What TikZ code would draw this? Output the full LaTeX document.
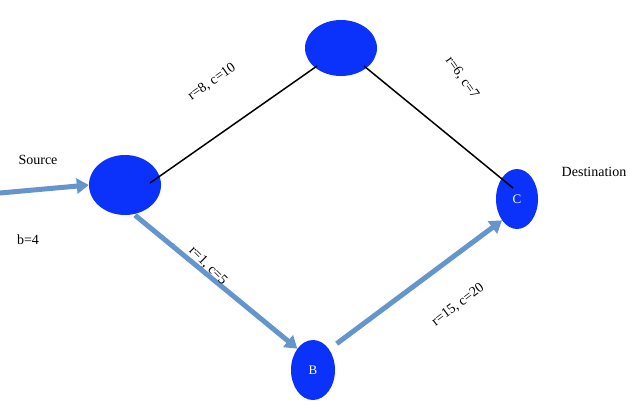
\documentclass[tikz,border=0pt]{standalone}
\usepackage{fontspec}
\setmainfont{Liberation Serif}
\usetikzlibrary{shapes.geometric,arrows.meta}
\definecolor{nodeblue}{RGB}{10,50,250}
\definecolor{arrowblue}{RGB}{100,150,205}
\begin{document}
\begin{tikzpicture}[x=1pt,y=-1pt,
  blob/.style={ellipse,fill=nodeblue,draw=none,text=white,font=\fontsize{13}{15}\selectfont,inner sep=0pt},
  flow/.style={draw=arrowblue,line width=5pt,-{Triangle[length=12pt,width=15pt]}},
  link/.style={draw=black,line width=1.5pt},
  lbl/.style={font=\fontsize{14}{16}\selectfont,inner sep=1pt}]
\useasboundingbox[fill=white] (0,0) rectangle (639,408);
\node[blob,minimum width=72pt,minimum height=60pt] (s) at (125,185) {};
\node[blob,minimum width=72pt,minimum height=56pt] (t) at (341,48) {};
\node[blob,minimum width=42pt,minimum height=60pt] (c) at (517,199) {C};
\node[blob,minimum width=44pt,minimum height=60pt] (b) at (313,370) {B};
\coordinate (in) at (0,193);
\coordinate (s1) at (150,183);
\coordinate (t1) at (317,66);
\coordinate (t2) at (364,66);
\coordinate (c1) at (513,188);
\draw[link] (s1) -- (t1);
\draw[link] (t2) -- (c1);
\draw[flow] (in) -- (s.west);
\draw[flow] (s.south) ++(10,0) coordinate (s2) -- (b.north west);
\draw[flow] (b.north east) ++(8,-5) -- (c.south west);
\node[lbl] (src) at (38,160) {Source};
\node[lbl] (bb) at (28,240) {b=4};
\node[lbl] (dst) at (594,172) {Destination};
\node[lbl,rotate=35] (l1) at (212,82) {r=8, c=10};
\node[lbl,rotate=-55] (l2) at (462,78) {r=6, c=7};
\node[lbl,rotate=-45] (l3) at (208,266) {r=1, c=5};
\node[lbl,rotate=37] (l4) at (458,305) {r=15, c=20};
\end{tikzpicture}
\end{document}
